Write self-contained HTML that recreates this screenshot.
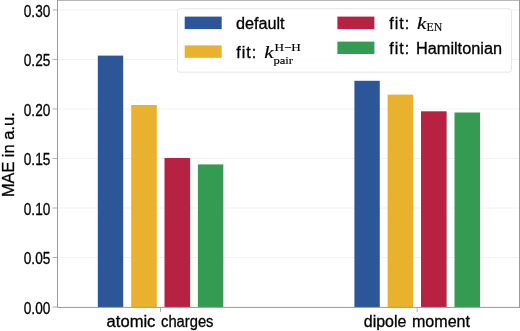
<!DOCTYPE html>
<html><head><meta charset="utf-8">
<style>
html,body{margin:0;padding:0;background:#fff;}
svg{display:block;}
text{font-family:"Liberation Sans",sans-serif;fill:#000;stroke:#000;stroke-width:0.3px;}
text.s{font-family:"Liberation Serif",serif;stroke-width:0.15px;}
</style></head>
<body>
<svg width="520" height="331" viewBox="0 0 520 331">
<rect x="0" y="0" width="520" height="331" fill="#fff"/>
<!-- grid -->
<g stroke="#f2f2f2" stroke-width="1">
<line x1="58" x2="519" y1="10" y2="10"/>
<line x1="58" x2="519" y1="59.5" y2="59.5"/>
<line x1="58" x2="519" y1="109" y2="109"/>
<line x1="58" x2="519" y1="158.5" y2="158.5"/>
<line x1="58" x2="519" y1="208" y2="208"/>
<line x1="58" x2="519" y1="257.5" y2="257.5"/>
</g>
<!-- bars -->
<g>
<rect x="97.8" y="55.6" width="25.4" height="251.4" fill="#2c5697"/>
<rect x="131.2" y="105" width="25.6" height="202" fill="#e9b22e"/>
<rect x="164.5" y="158" width="25.6" height="149" fill="#b82242"/>
<rect x="197.9" y="164.4" width="25.4" height="142.6" fill="#359b53"/>
<rect x="354.4" y="80.8" width="25.4" height="226.2" fill="#2c5697"/>
<rect x="387.6" y="94.6" width="25.5" height="212.4" fill="#e9b22e"/>
<rect x="421" y="111.3" width="25.6" height="195.7" fill="#b82242"/>
<rect x="454.5" y="112.5" width="25.6" height="194.5" fill="#359b53"/>
</g>
<!-- spines -->
<g stroke="#9a9a9a" stroke-width="1" fill="none">
<rect x="57.5" y="0.2" width="462" height="307.2"/>
</g>
<!-- ticks -->
<g stroke="#a0a0a0" stroke-width="0.8">
<line x1="52.5" x2="57.5" y1="10" y2="10"/>
<line x1="52.5" x2="57.5" y1="59.5" y2="59.5"/>
<line x1="52.5" x2="57.5" y1="109" y2="109"/>
<line x1="52.5" x2="57.5" y1="158.5" y2="158.5"/>
<line x1="52.5" x2="57.5" y1="208" y2="208"/>
<line x1="52.5" x2="57.5" y1="257.5" y2="257.5"/>
<line x1="52.5" x2="57.5" y1="307" y2="307"/>
<line x1="160.5" x2="160.5" y1="307" y2="312"/>
<line x1="417.2" x2="417.2" y1="307" y2="312"/>
</g>
<!-- y tick labels -->
<g font-size="16">
<text x="23.8" y="16.6" textLength="26.5" lengthAdjust="spacingAndGlyphs">0.30</text>
<text x="23.8" y="66.1" textLength="26.5" lengthAdjust="spacingAndGlyphs">0.25</text>
<text x="23.8" y="115.6" textLength="26.5" lengthAdjust="spacingAndGlyphs">0.20</text>
<text x="23.8" y="165.1" textLength="26.5" lengthAdjust="spacingAndGlyphs">0.15</text>
<text x="23.8" y="214.6" textLength="26.5" lengthAdjust="spacingAndGlyphs">0.10</text>
<text x="23.8" y="264.1" textLength="26.5" lengthAdjust="spacingAndGlyphs">0.05</text>
<text x="23.8" y="313.6" textLength="26.5" lengthAdjust="spacingAndGlyphs">0.00</text>
</g>
<!-- axis labels -->
<text font-size="16.5" transform="translate(13.6,197) rotate(-90)" textLength="35.4" lengthAdjust="spacingAndGlyphs">MAE</text>
<text font-size="16.5" transform="translate(13.6,157.2) rotate(-90)" textLength="45" lengthAdjust="spacingAndGlyphs">in a.u.</text>
<text font-size="16" x="106.6" y="326.6" textLength="48.8" lengthAdjust="spacingAndGlyphs">atomic</text>
<text font-size="16" x="161" y="326.6" textLength="52.5" lengthAdjust="spacingAndGlyphs">charges</text>
<text font-size="16" x="363.8" y="326.6" textLength="42.6" lengthAdjust="spacingAndGlyphs">dipole</text>
<text font-size="16" x="412" y="326.6" textLength="58" lengthAdjust="spacingAndGlyphs">moment</text>
<!-- legend -->
<rect x="177.5" y="8.7" width="334" height="63.5" rx="2.5" ry="2.5" fill="#fff" fill-opacity="0.8" stroke="#e6e6e6" stroke-width="1"/>
<rect x="184.7" y="16.6" width="37" height="12.5" fill="#2c5697"/>
<rect x="184.7" y="45.4" width="37" height="12.4" fill="#e9b22e"/>
<rect x="337.4" y="16.6" width="37" height="12.5" fill="#b82242"/>
<rect x="337.4" y="41.6" width="37" height="12.4" fill="#359b53"/>
<g font-size="16">
<text x="236" y="29.2" textLength="48.6" lengthAdjust="spacingAndGlyphs">default</text>
<text x="236.3" y="57.6" textLength="20" lengthAdjust="spacing">fit:</text>
<text x="389.3" y="29.2" textLength="20" lengthAdjust="spacing">fit:</text>
<text x="389.3" y="54.2" textLength="20" lengthAdjust="spacing">fit:</text>
<text x="416" y="54.2" textLength="86" lengthAdjust="spacingAndGlyphs">Hamiltonian</text>
</g>
<g>
<text class="s" x="264.2" y="57.6" font-size="17" font-style="italic" textLength="9.3" lengthAdjust="spacingAndGlyphs">k</text>
<text class="s" x="274.4" y="51.2" font-size="11" textLength="26.4" lengthAdjust="spacingAndGlyphs">H−H</text>
<text class="s" x="273.4" y="64" font-size="11" textLength="19.6" lengthAdjust="spacingAndGlyphs">pair</text>
<text class="s" x="416.9" y="29.2" font-size="17" font-style="italic" textLength="9.3" lengthAdjust="spacingAndGlyphs">k</text>
<text class="s" x="426.6" y="31.4" font-size="12" textLength="15.8" lengthAdjust="spacingAndGlyphs">EN</text>
</g>
</svg>
</body></html>
